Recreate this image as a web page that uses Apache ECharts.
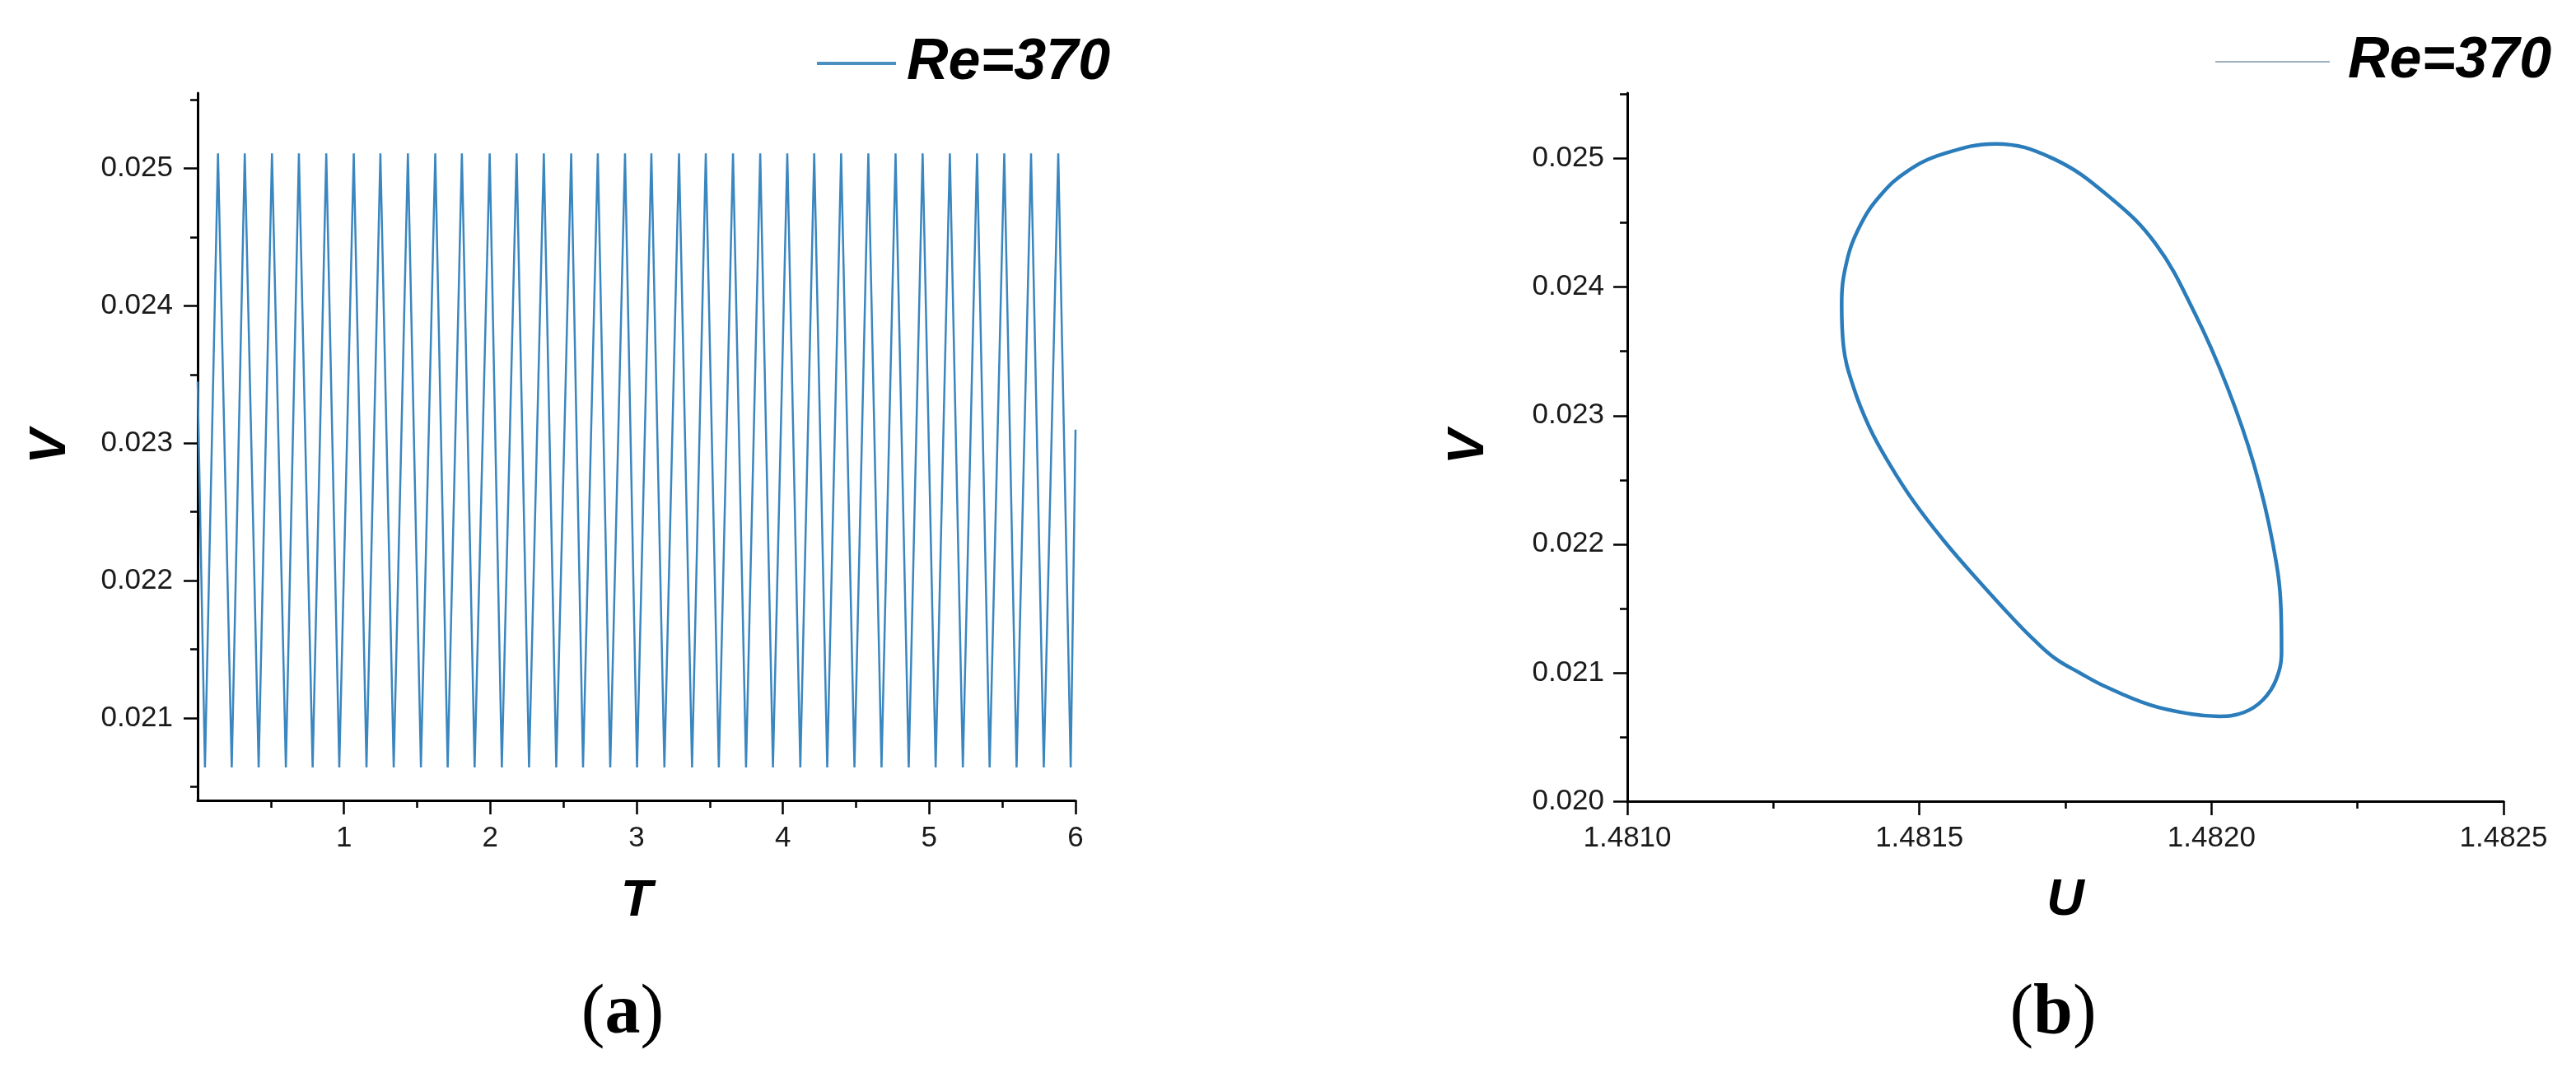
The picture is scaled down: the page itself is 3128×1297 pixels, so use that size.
<!DOCTYPE html>
<html>
<head>
<meta charset="utf-8">
<title>Re=370</title>
<script src="https://cdn.jsdelivr.net/npm/echarts@6/dist/echarts.min.js"></script>
<style>
  html, body { margin: 0; padding: 0; background: #fff; }
  #chart-container { width: 3128px; height: 1297px; }
</style>
</head>
<body>
<div id="chart-container"></div>
<script>
// (a) V against T: turning points (start, trough/peak pairs, end)
const timeT = [0,
  0.050, 0.139, 0.233, 0.322, 0.417, 0.508, 0.603, 0.692, 0.786, 0.879,
  0.968, 1.067, 1.154, 1.249, 1.340, 1.437, 1.526, 1.624, 1.709, 1.806,
  1.893, 1.996, 2.079, 2.180, 2.265, 2.366, 2.451, 2.553, 2.634, 2.735,
  2.820, 2.921, 3.003, 3.101, 3.190, 3.290, 3.379, 3.473, 3.562, 3.659,
  3.748, 3.845, 3.932, 4.030, 4.119, 4.214, 4.303, 4.398, 4.489, 4.584,
  4.674, 4.770, 4.860, 4.955, 5.044, 5.141, 5.230, 5.327, 5.413, 5.513,
  5.597, 5.696, 5.783, 5.882, 5.967,
  6.0];
const velocityV = [0.02345,
  0.02064, 0.02511, 0.02064, 0.02511, 0.02064, 0.02511, 0.02064, 0.02511, 0.02064, 0.02511,
  0.02064, 0.02511, 0.02064, 0.02511, 0.02064, 0.02511, 0.02064, 0.02511, 0.02064, 0.02511,
  0.02064, 0.02511, 0.02064, 0.02511, 0.02064, 0.02511, 0.02064, 0.02511, 0.02064, 0.02511,
  0.02064, 0.02511, 0.02064, 0.02511, 0.02064, 0.02511, 0.02064, 0.02511, 0.02064, 0.02511,
  0.02064, 0.02511, 0.02064, 0.02511, 0.02064, 0.02511, 0.02064, 0.02511, 0.02064, 0.02511,
  0.02064, 0.02511, 0.02064, 0.02511, 0.02064, 0.02511, 0.02064, 0.02511, 0.02064, 0.02511,
  0.02064, 0.02511, 0.02064, 0.02511, 0.02064,
  0.0231];

// (b) phase portrait U-V: closed loop, clockwise,
// starting on the straight lower-left edge so the seam does not show
const loopU = [1.481598, 1.481542, 1.481491, 1.481450, 1.481415, 1.481387, 1.481370,
  1.481367, 1.481375, 1.481398, 1.481433, 1.481480, 1.481542, 1.481630, 1.481729,
  1.481826, 1.481905, 1.481971, 1.482027, 1.482073, 1.482105, 1.482119, 1.482120,
  1.482111, 1.482088, 1.482056, 1.482013, 1.481964, 1.481894, 1.481816, 1.481774,
  1.481733, 1.481696, 1.481661, 1.481598];
const loopV = [0.021731, 0.022026, 0.022327, 0.022615, 0.022904, 0.023224, 0.023545,
  0.023865, 0.024186, 0.024474, 0.024712, 0.024904, 0.025038, 0.025115, 0.025000,
  0.024699, 0.024333, 0.023801, 0.023224, 0.022615, 0.022006, 0.021494, 0.021173,
  0.020949, 0.020788, 0.020692, 0.020660, 0.020679, 0.020750, 0.020897, 0.021000,
  0.021109, 0.021256, 0.021417, 0.021731];

// tick values
const xTicksA = [1, 2, 3, 4, 5, 6];
const xMinorA = [0.5, 1.5, 2.5, 3.5, 4.5, 5.5];
const yTicksA = [0.021, 0.022, 0.023, 0.024, 0.025];
const yMinorA = [0.0205, 0.0215, 0.0225, 0.0235, 0.0245, 0.0255];
const xTicksB = [1.4810, 1.4815, 1.4820, 1.4825];
const xMinorB = [1.48125, 1.48175, 1.48225];
const yTicksB = [0.020, 0.021, 0.022, 0.023, 0.024, 0.025];
const yMinorB = [0.0205, 0.0215, 0.0225, 0.0235, 0.0245, 0.0255];

const seriesName = 'Re=370';

const FONT = '"Liberation Sans", Arial, sans-serif';
const SERIF = '"Liberation Serif", "Times New Roman", serif';
const labelStyle = { fontFamily: FONT, fontSize: 35, lineHeight: 35, color: '#1a1a1a' };
const nameStyle = { fontFamily: FONT, fontSize: 63, lineHeight: 63, fontWeight: 'bold', fontStyle: 'italic', color: '#000' };

// axis with the long ticks and the labels
function majorAxis(gridIndex, pos, min, max, ticks, digits, name, gap, margin) {
  return {
    type: 'value', gridIndex: gridIndex, position: pos, min: min, max: max,
    name: name, nameLocation: 'middle', nameGap: gap, nameTextStyle: nameStyle,
    axisLine: { show: true, onZero: false, lineStyle: { color: '#000', width: 3 } },
    axisTick: { show: true, length: 17, customValues: ticks, lineStyle: { color: '#000', width: 2.5 } },
    axisLabel: Object.assign({ show: true, customValues: ticks, margin: margin,
      formatter: v => Number(v).toFixed(digits) }, labelStyle),
    splitLine: { show: false }
  };
}
// overlaid axis on the same side that only draws the short ticks
function minorAxis(gridIndex, pos, min, max, ticks) {
  return {
    type: 'value', gridIndex: gridIndex, position: pos, offset: 0, min: min, max: max,
    axisLine: { show: false, onZero: false },
    axisTick: { show: true, length: 9, customValues: ticks, lineStyle: { color: '#000', width: 2.5 } },
    axisLabel: { show: false, customValues: ticks },
    splitLine: { show: false }
  };
}

var myChart = echarts.init(document.getElementById('chart-container'), null, { renderer: 'canvas' });

var option = {
  animation: false,
  backgroundColor: '#fff',
  grid: [
    { left: 240, top: 113, width: 1066, height: 859 },
    { left: 1976, top: 113, width: 1064, height: 860 }
  ],
  xAxis: [
    majorAxis(0, 'bottom', 0, 6, xTicksA, 0, 'T', 91, 29),
    minorAxis(0, 'bottom', 0, 6, xMinorA),
    majorAxis(1, 'bottom', 1.4810, 1.4825, xTicksB, 4, 'U', 89, 28),
    minorAxis(1, 'bottom', 1.4810, 1.4825, xMinorB)
  ],
  yAxis: [
    majorAxis(0, 'left', 0.0204, 0.02555, yTicksA, 3, 'V', 147, 30),
    minorAxis(0, 'left', 0.0204, 0.02555, yMinorA),
    majorAxis(1, 'left', 0.020, 0.02551, yTicksB, 3, 'V', 161, 28),
    minorAxis(1, 'left', 0.020, 0.02551, yMinorB)
  ],
  legend: [
    {
      data: [{ name: seriesName, itemStyle: { color: '#4a8fc2' } }],
      left: 987, top: 29, icon: 'rect', itemWidth: 96, itemHeight: 4, selectedMode: false,
      textStyle: { fontFamily: FONT, fontSize: 70, lineHeight: 70, fontWeight: 'bold', fontStyle: 'italic',
        color: '#000', padding: [0, 0, 16, 8] }
    },
    {
      data: [{ name: seriesName, itemStyle: { color: '#9db1c0' } }],
      left: 2685, top: 31, icon: 'rect', itemWidth: 139, itemHeight: 2, selectedMode: false,
      textStyle: { fontFamily: FONT, fontSize: 70, lineHeight: 70, fontWeight: 'bold', fontStyle: 'italic',
        color: '#000', padding: [0, 0, 8, 17] }
    }
  ],
  graphic: [
    { type: 'text', x: 756, y: 1232,
      style: { text: '{p|(}{b|a}{p|)}', align: 'center', verticalAlign: 'middle',
        rich: { p: { fontFamily: SERIF, fontSize: 86, fill: '#000' },
                b: { fontFamily: SERIF, fontSize: 86, fontWeight: 'bold', fill: '#000' } } } },
    { type: 'text', x: 2493, y: 1232,
      style: { text: '{p|(}{b|b}{p|)}', align: 'center', verticalAlign: 'middle',
        rich: { p: { fontFamily: SERIF, fontSize: 86, fill: '#000' },
                b: { fontFamily: SERIF, fontSize: 86, fontWeight: 'bold', fill: '#000' } } } }
  ],
  series: [
    {
      name: seriesName, type: 'line', xAxisIndex: 0, yAxisIndex: 0,
      data: timeT.map((t, i) => [t, velocityV[i]]),
      showSymbol: false, smooth: false,
      lineStyle: { color: '#3a86bf', width: 2.5 }, itemStyle: { color: '#3a86bf' }
    },
    {
      name: seriesName, type: 'line', xAxisIndex: 2, yAxisIndex: 2,
      data: loopU.map((u, i) => [u, loopV[i]]),
      showSymbol: false, smooth: 0.4,
      lineStyle: { color: '#2a7cba', width: 4.5 }, itemStyle: { color: '#2a7cba' }
    }
  ]
};

myChart.setOption(option);
</script>
</body>
</html>
